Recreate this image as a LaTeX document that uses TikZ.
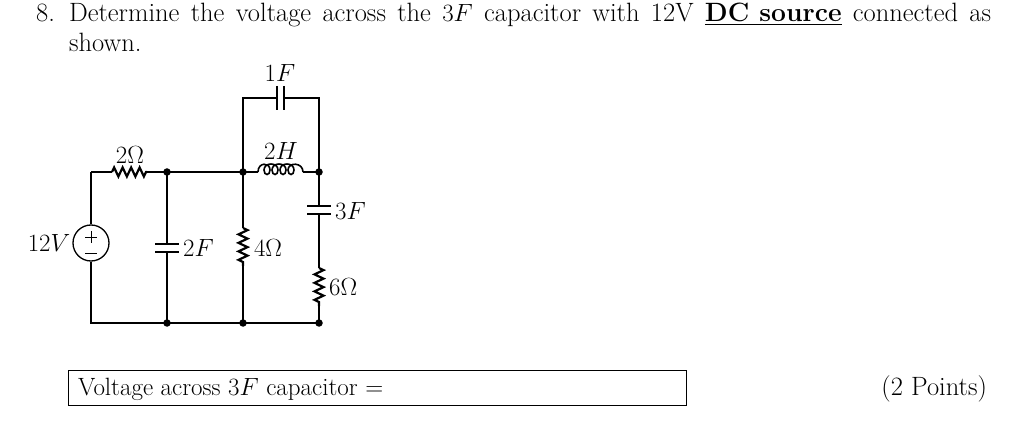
\documentclass[tikz,border=0pt]{standalone}
\usetikzlibrary{decorations.pathmorphing}
\begin{document}
\begin{tikzpicture}[x=1pt,y=-1pt,line width=2.2pt,
  dot/.style={circle,fill,inner sep=0pt,minimum size=7.5pt},
  zz/.style={decorate,decoration={zigzag,segment length=8.5pt,amplitude=4.5pt}},
  lbl/.style={font=\fontsize{25}{28}\selectfont,inner sep=1pt},
  txt/.style={font=\fontsize{26.5}{30}\selectfont,inner sep=0pt}]
\useasboundingbox (0,0) rectangle (1024,435);
% text
\node[txt,anchor=base west] (n8) at (35,22) {8.};
\node[txt,anchor=base west] (l1) at (68,22) {\hbox to 922pt{Determine the voltage across the $3F$ capacitor with 12V \underline{\textbf{DC source}} connected as}};
\node[txt,anchor=base west] (l2) at (68,52) {shown.};
% coordinates
\coordinate (TL) at (91,172); \coordinate (BL) at (91,323);
\coordinate (A) at (167,172); \coordinate (A2) at (167,323);
\coordinate (B) at (243,172); \coordinate (B2) at (243,323);
\coordinate (C) at (319,172); \coordinate (C2) at (319,323);
\coordinate (BT) at (243,98); \coordinate (CT) at (319,98);
% source
\node[draw,circle,minimum size=36pt,inner sep=0pt,line width=1.3pt] (src) at (91,243) {};
\draw (TL) -- (src.north); \draw (src.south) -- (BL) -- (C2);
\draw[line width=0.9pt] (85,237) -- (97,237) (91,231) -- (91,243) (85,253) -- (97,253);
\node[lbl,anchor=east] (v12) at (src.west) {$12V$};
% 2 ohm
\draw (TL) -- (112,172);
\draw[zz] (112,172) -- (147,172);
\draw (147,172) -- (A) -- (B);
\node[lbl,anchor=south] (r2) at (130,166) {$2\Omega$};
% 2F
\draw (A) -- (167,244) (167,252) -- (A2);
\draw (155,244) -- (179,244) (155,252) -- (179,252);
\node[lbl,anchor=west] (c2) at (181,248) {$2F$};
% 4 ohm
\draw (B) -- (243,228);
\draw[zz] (243,228) -- (243,266);
\draw (243,266) -- (B2);
\node[lbl,anchor=west] (r4) at (252,248) {$4\Omega$};
% 1F loop
\draw (B) -- (BT) -- (277,98) (284,98) -- (CT) -- (C);
\draw (277,86) -- (277,110) (284,86) -- (284,110);
\node[lbl,anchor=south] (c1) at (280,84) {$1F$};
% inductor
\draw (B) -- (258,172);
\draw[line width=1.6pt] (258,172) .. controls (258,162) and (270,162) .. (270,170)
  .. controls (270,176) and (264,176) .. (264,170) .. controls (264,162) and (278,162) .. (278,170)
  .. controls (278,176) and (272,176) .. (272,170) .. controls (272,162) and (286,162) .. (286,170)
  .. controls (286,176) and (280,176) .. (280,170) .. controls (280,162) and (294,162) .. (294,170)
  .. controls (294,176) and (288,176) .. (288,170) .. controls (288,162) and (303,162) .. (303,172);
\draw (303,172) -- (C);
\node[lbl,anchor=south] (l2h) at (281,162) {$2H$};
% 3F and 6 ohm
\draw (C) -- (319,206) (319,214) -- (319,268);
\draw[zz] (319,268) -- (319,306);
\draw (319,306) -- (C2);
\draw (307,206) -- (331,206) (307,214) -- (331,214);
\node[lbl,anchor=west] (c3) at (333,211) {$3F$};
\node[lbl,anchor=west] (r6) at (327,287) {$6\Omega$};
% dots
\foreach \p in {A,A2,B,B2,C,C2} \node[dot] at (\p) {};
% answer box
\draw[line width=0.9pt] (68,370) rectangle (686,405);
\node[lbl,anchor=base west] (ans) at (76,395) {Voltage across $3F$ capacitor $=$};
\node[txt,anchor=base east] (pts) at (988,395) {(2 Points)};
\end{tikzpicture}
\end{document}
